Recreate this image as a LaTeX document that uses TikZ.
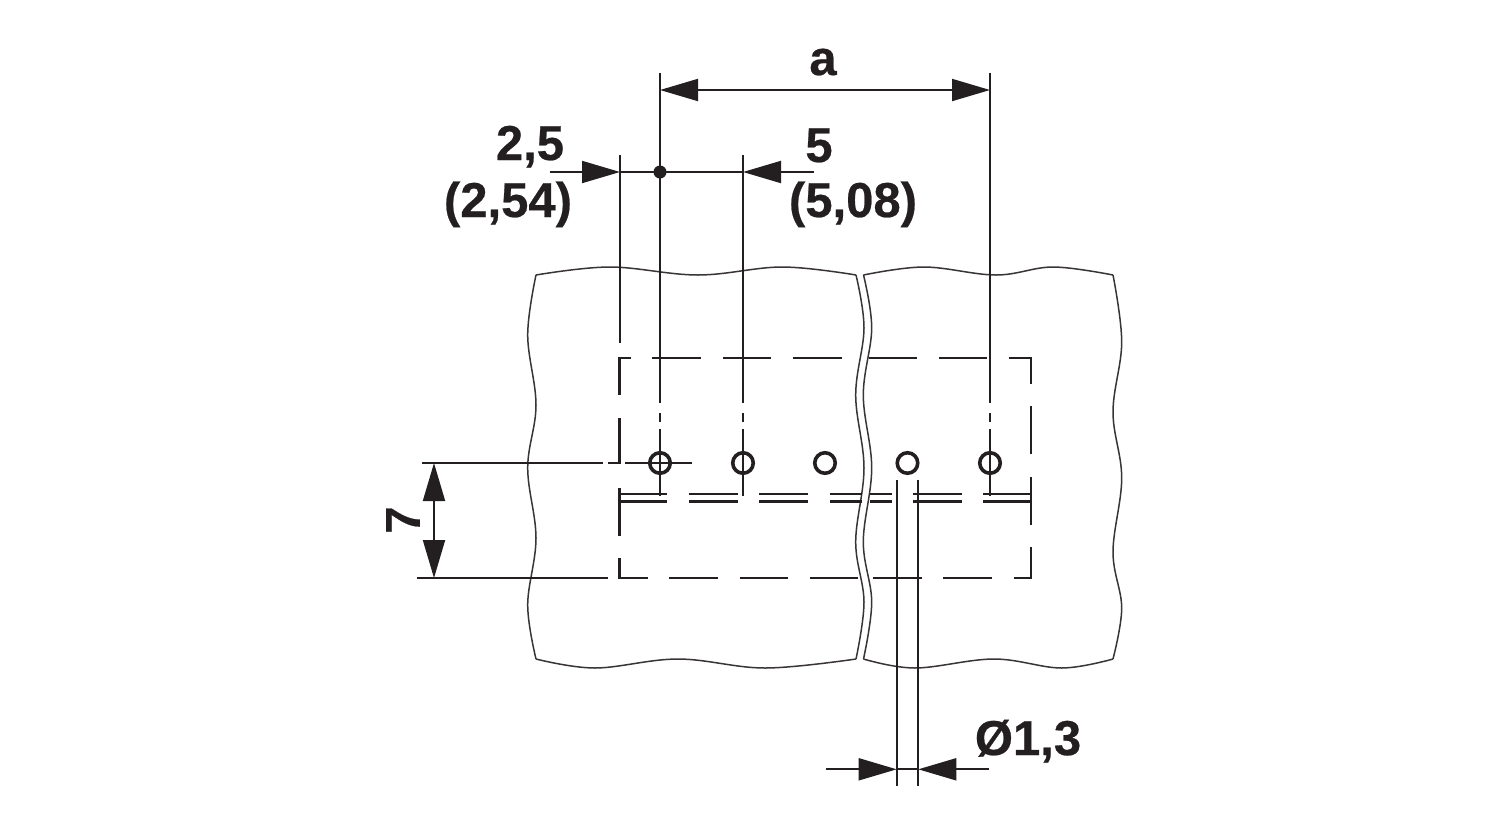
\documentclass[tikz,border=0pt]{standalone}
\usepackage{fontspec}
\setmainfont{Liberation Sans}
\newfontfamily\dimfont[FakeBold=0.5]{Liberation Sans Bold}
\usetikzlibrary{arrows.meta}
\definecolor{ink}{HTML}{231F20}
\tikzset{
  dimtip/.style={-{Triangle[length=38pt,width=22pt]}},
  dimline/.style={ink,line width=1.9pt},
  hidden/.style={ink,line width=2.6pt},
  outline/.style={ink!90,line width=1.5pt,line join=miter},
  dimtext/.style={inner sep=0pt,text=ink,font=\fontsize{49}{49}\selectfont\dimfont,anchor=base}
}
\begin{document}
\begin{tikzpicture}[x=1pt,y=-1pt]
\useasboundingbox[fill=white] (0,0) rectangle (1500,820);
% broken panels
\draw[outline] plot[smooth,tension=0.6] coordinates {(536,275) (610,267) (698,275) (782,267) (856,275)};
\draw[outline] plot[smooth,tension=0.6] coordinates {(536,275) (527.7,335) (536,405) (527.7,468) (536,538) (527.7,605) (536,659)};
\draw[outline] plot[smooth,tension=0.6] coordinates {(536,659) (595,668) (678,659) (765,668) (856,659)};
\draw[outline] plot[smooth,tension=0.6] coordinates {(856,275) (864,328) (855.7,395) (864,468) (855.7,542) (864,602) (856,659)};
\draw[outline] plot[smooth,tension=0.6] coordinates {(863.5,275) (924,267) (996,275) (1053,267) (1113,275)};
\draw[outline] plot[smooth,tension=0.6] coordinates {(863.5,275) (871.7,328) (863.3,395) (871.7,468) (863.3,542) (871.7,602) (863.5,659)};
\draw[outline] plot[smooth,tension=0.6] coordinates {(863.5,659) (915,668) (994,659) (1061.5,668) (1113,659)};
\draw[outline] plot[smooth,tension=0.6] coordinates {(1113,275) (1121.7,342) (1113,412) (1121.7,478) (1113,552) (1121.7,608) (1113,659)};
% hidden rectangle
\draw[hidden] (631,358) -- (619.5,358) -- (619.5,395);
\foreach \a/\b in {652/701,723/771,793/842,869/917,939/987}{\draw[hidden] (\a,358) -- (\b,358);}
\draw[hidden] (1009,358) -- (1031,358) -- (1031,384);
\foreach \a/\b in {418/464,488/536}{\draw[hidden] (619.5,\a) -- (619.5,\b);}
\draw[hidden] (619.5,558) -- (619.5,578) -- (648,578);
\foreach \a/\b in {406/454,477/525}{\draw[hidden] (1031,\a) -- (1031,\b);}
\draw[hidden] (1031,547) -- (1031,578) -- (1014,578);
\foreach \a/\b in {669/718,740/788,810/858,873/922,943/992}{\draw[hidden] (\a,578) -- (\b,578);}
\foreach \y in {494,501.3}{
  \foreach \a/\b in {619.5/667,689/737.5,759/808,830/861.5,870/891.7,913/962,983/1031}{\draw[hidden] (\a,\y) -- (\b,\y);}
}
% holes
\foreach \n/\x in {h1/660,h2/743,h3/825,h4/907.5,h5/990}{
  \node[circle,draw=ink,line width=3.6pt,minimum size=20.5pt,inner sep=0pt] (\n) at (\x,463) {};
}
% extension and centre lines
\coordinate (tl) at (620,155); \coordinate (tlb) at (620,343);
\draw[dimline] (tl) -- (tlb);
\foreach \x/\t in {660/72.7,743/155,990/72.7}{
  \draw[dimline] (\x,\t) -- (\x,403);
  \draw[dimline] (\x,413) -- (\x,422);
  \draw[dimline] (\x,429) -- (\x,496);
}
\draw[dimline] (422,463) -- (603,463);
\draw[dimline] (608,463) -- (620,463);
\draw[dimline] (625,463) -- (692,463);
\draw[dimline] (417,578) -- (608,578);
\draw[dimline] (896.7,480) -- (896.7,786);
\draw[dimline] (918.3,480) -- (918.3,786);
% dimensions
\coordinate (aL) at (660,90); \coordinate (aR) at (990,90);
\draw[dimline,{Triangle[length=38pt,width=22pt]}-{Triangle[length=38pt,width=22pt]}] (aL) -- (aR);
\node[dimtext] (ta) at (823,75) {a};
\coordinate (pS) at (549.5,172); \coordinate (pA) at (620,172);
\coordinate (pB) at (743,172); \coordinate (pE) at (814,172);
\draw[dimline,dimtip] (pS) -- (pA);
\draw[dimline,dimtip] (pE) -- (pB);
\draw[dimline] (pA) -- (pB);
\node[circle,fill=ink,minimum size=13pt,inner sep=0pt] (dot) at (660,172) {};
\node[dimtext] (t25) at (530,160) {2,5};
\node[dimtext] (t254) at (508,217) {(2,54)};
\node[dimtext] (t5) at (819,162) {5};
\node[dimtext] (t508) at (853,217) {(5,08)};
\coordinate (sT) at (434,463); \coordinate (sB) at (434,578);
\draw[dimline,{Triangle[length=38pt,width=22pt]}-{Triangle[length=38pt,width=22pt]}] (sT) -- (sB);
\node[inner sep=0pt,text=ink,font=\fontsize{49}{49}\selectfont\dimfont,rotate=90] (t7) at (403,520) {7};
\coordinate (dL) at (826,769.3); \coordinate (d1) at (896.7,769.3);
\coordinate (d2) at (918.3,769.3); \coordinate (dR) at (989,769.3);
\draw[dimline,dimtip] (dL) -- (d1);
\draw[dimline,dimtip] (dR) -- (d2);
\draw[dimline] (d1) -- (d2);
\node[dimtext] (tphi) at (1028,755) {Ø1,3};
\end{tikzpicture}
\end{document}
